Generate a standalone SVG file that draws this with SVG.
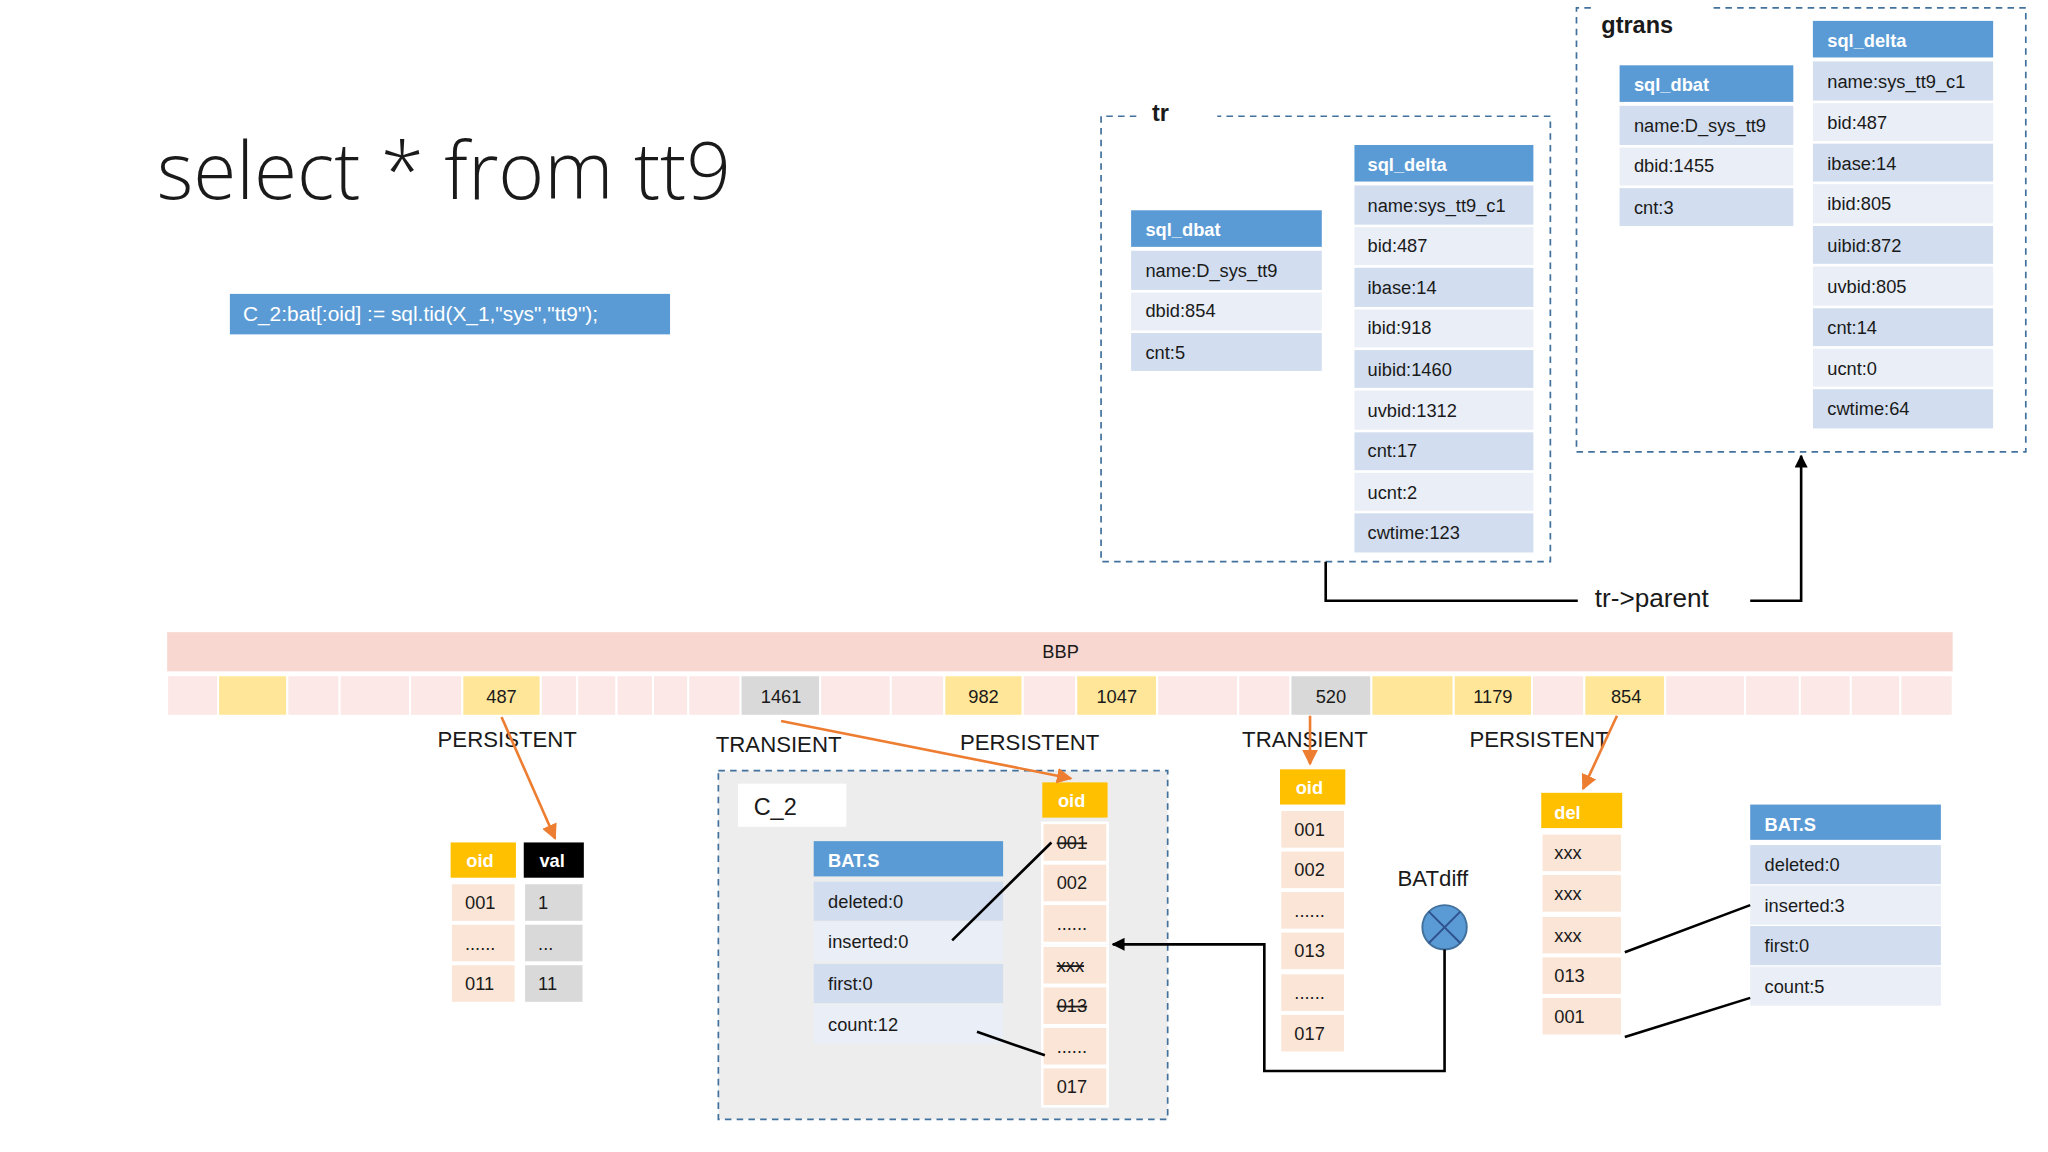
<svg xmlns="http://www.w3.org/2000/svg" width="2048" height="1152" viewBox="0 0 2048 1152">
<style>
text{font-family:"Liberation Sans","Noto Sans",sans-serif;fill:#1a1a1a}
.hd{fill:#5b9bd5}.hdt{fill:#fff;font-weight:bold;font-size:14px}
.r1{fill:#d2deef}.r2{fill:#e9eef7}
.t{font-size:14px}
.box{fill:none;stroke:#41719c;stroke-width:1.3;stroke-dasharray:5,4}
.pk{fill:#fce8e6}.ye{fill:#ffe699}.gr{fill:#d9d9d9}
.og{fill:#ffc000}.oc{fill:#fbe5d6;stroke:#fff;stroke-width:2}
.oa{stroke:#ed7d31;stroke-width:2;fill:none}
.bl{stroke:#000;stroke-width:2;fill:none}
.lab{font-size:17px}
</style>
<defs>
<marker id="ao" viewBox="0 0 10 10" refX="9" refY="5" markerWidth="6" markerHeight="6" orient="auto"><path d="M0,0L10,5L0,10z" fill="#ed7d31"/></marker>
<marker id="ab" viewBox="0 0 10 10" refX="9" refY="5" markerWidth="5" markerHeight="5" orient="auto"><path d="M0,0L10,5L0,10z" fill="#000"/></marker>
</defs>
<rect width="2048" height="1152" fill="#fff"/>
<g transform="scale(1.30612)">
<g id="title"><text x="120" y="152" style="font-size:60px;font-family:'Open Sans','Liberation Sans',sans-serif;font-weight:300">select * from tt9</text></g>
<g id="code"><rect x="176" y="225" width="337" height="31" fill="#5b9bd5"/><text x="186" y="246" style="fill:#fff;font-size:16px">C_2:bat[:oid] := sql.tid(X_1,"sys","tt9");</text></g>

<g id="tr">
<path class="box" d="M870,89H843V430H1187V89H932"/>
<text x="882" y="93" style="font-weight:bold;font-size:18px">tr</text>
<rect class="hd" x="866" y="161" width="146" height="28"/><text class="hdt" x="877" y="181">sql_dbat</text>
<rect class="r1" x="866" y="192" width="146" height="30"/><text class="t" x="877" y="212">name:D_sys_tt9</text>
<rect class="r2" x="866" y="224" width="146" height="29"/><text class="t" x="877" y="243">dbid:854</text>
<rect class="r1" x="866" y="255" width="146" height="29"/><text class="t" x="877" y="275">cnt:5</text>
<rect class="hd" x="1037" y="111" width="137" height="28"/><text class="hdt" x="1047" y="131">sql_delta</text>
<rect class="r1" x="1037" y="142" width="137" height="30"/><text class="t" x="1047" y="162">name:sys_tt9_c1</text>
<rect class="r2" x="1037" y="174" width="137" height="29"/><text class="t" x="1047" y="193">bid:487</text>
<rect class="r1" x="1037" y="205" width="137" height="30"/><text class="t" x="1047" y="225">ibase:14</text>
<rect class="r2" x="1037" y="237" width="137" height="29"/><text class="t" x="1047" y="256">ibid:918</text>
<rect class="r1" x="1037" y="268" width="137" height="29"/><text class="t" x="1047" y="288">uibid:1460</text>
<rect class="r2" x="1037" y="299" width="137" height="30"/><text class="t" x="1047" y="319">uvbid:1312</text>
<rect class="r1" x="1037" y="331" width="137" height="29"/><text class="t" x="1047" y="350">cnt:17</text>
<rect class="r2" x="1037" y="362" width="137" height="29"/><text class="t" x="1047" y="382">ucnt:2</text>
<rect class="r1" x="1037" y="393" width="137" height="30"/><text class="t" x="1047" y="413">cwtime:123</text>
</g>

<g id="gtrans">
<path class="box" d="M1218,6H1207V346H1551V6H1308"/>
<text x="1226" y="25" style="font-weight:bold;font-size:18px">gtrans</text>
<rect class="hd" x="1240" y="50" width="133" height="28"/><text class="hdt" x="1251" y="70">sql_dbat</text>
<rect class="r1" x="1240" y="81" width="133" height="30"/><text class="t" x="1251" y="101">name:D_sys_tt9</text>
<rect class="r2" x="1240" y="113" width="133" height="29"/><text class="t" x="1251" y="132">dbid:1455</text>
<rect class="r1" x="1240" y="144" width="133" height="29"/><text class="t" x="1251" y="164">cnt:3</text>
<rect class="hd" x="1388" y="16" width="138" height="28"/><text class="hdt" x="1399" y="36">sql_delta</text>
<rect class="r1" x="1388" y="47" width="138" height="30"/><text class="t" x="1399" y="67">name:sys_tt9_c1</text>
<rect class="r2" x="1388" y="79" width="138" height="29"/><text class="t" x="1399" y="99">bid:487</text>
<rect class="r1" x="1388" y="110" width="138" height="29"/><text class="t" x="1399" y="130">ibase:14</text>
<rect class="r2" x="1388" y="141" width="138" height="30"/><text class="t" x="1399" y="161">ibid:805</text>
<rect class="r1" x="1388" y="173" width="138" height="29"/><text class="t" x="1399" y="193">uibid:872</text>
<rect class="r2" x="1388" y="204" width="138" height="30"/><text class="t" x="1399" y="224">uvbid:805</text>
<rect class="r1" x="1388" y="236" width="138" height="29"/><text class="t" x="1399" y="256">cnt:14</text>
<rect class="r2" x="1388" y="267" width="138" height="29"/><text class="t" x="1399" y="287">ucnt:0</text>
<rect class="r1" x="1388" y="298" width="138" height="30"/><text class="t" x="1399" y="318">cwtime:64</text>
</g>

<g id="bbp">
<rect x="128" y="484" width="1367" height="30" fill="#f8d7d0"/>
<text x="812" y="504" text-anchor="middle" style="font-size:14px">BBP</text>
<g stroke="#fff" stroke-width="1.5">
<rect class="pk" x="128" y="517" width="39" height="31"/><rect class="ye" x="167" y="517" width="53" height="31"/>
<rect class="pk" x="220" y="517" width="40" height="31"/><rect class="pk" x="260" y="517" width="54" height="31"/>
<rect class="pk" x="314" y="517" width="40" height="31"/><rect class="ye" x="354" y="517" width="60" height="31"/>
<rect class="pk" x="414" y="517" width="28" height="31"/><rect class="pk" x="442" y="517" width="30" height="31"/>
<rect class="pk" x="472" y="517" width="28" height="31"/><rect class="pk" x="500" y="517" width="27" height="31"/>
<rect class="pk" x="527" y="517" width="40" height="31"/><rect class="gr" x="567" y="517" width="61" height="31"/>
<rect class="pk" x="628" y="517" width="54" height="31"/><rect class="pk" x="682" y="517" width="41" height="31"/>
<rect class="ye" x="723" y="517" width="60" height="31"/><rect class="pk" x="783" y="517" width="41" height="31"/>
<rect class="ye" x="824" y="517" width="62" height="31"/><rect class="pk" x="886" y="517" width="62" height="31"/>
<rect class="pk" x="948" y="517" width="40" height="31"/><rect class="gr" x="988" y="517" width="62" height="31"/>
<rect class="ye" x="1050" y="517" width="63" height="31"/><rect class="ye" x="1113" y="517" width="60" height="31"/>
<rect class="pk" x="1173" y="517" width="40" height="31"/><rect class="ye" x="1213" y="517" width="62" height="31"/>
<rect class="pk" x="1275" y="517" width="61" height="31"/><rect class="pk" x="1336" y="517" width="42" height="31"/>
<rect class="pk" x="1378" y="517" width="39" height="31"/><rect class="pk" x="1417" y="517" width="38" height="31"/>
<rect class="pk" x="1455" y="517" width="40" height="31"/>
</g>
<g class="t" text-anchor="middle" style="font-size:14px">
<text x="384" y="538">487</text><text x="598" y="538">1461</text><text x="753" y="538">982</text><text x="855" y="538">1047</text>
<text x="1019" y="538">520</text><text x="1143" y="538">1179</text><text x="1245" y="538">854</text>
</g>
</g>

<g id="labels" class="lab">
<text class="lab" x="335" y="572">PERSISTENT</text>
<text class="lab" x="548" y="576">TRANSIENT</text>
<text class="lab" x="735" y="574">PERSISTENT</text>
<text class="lab" x="951" y="572">TRANSIENT</text>
<text class="lab" x="1125" y="572">PERSISTENT</text>
</g>

<g id="t487">
<rect class="og" x="345" y="645" width="50" height="27"/><text x="357" y="664" style="fill:#fff;font-weight:bold;font-size:14px">oid</text>
<rect x="401" y="645" width="46" height="27" fill="#000"/><text x="413" y="664" style="fill:#fff;font-weight:bold;font-size:14px">val</text>
<g stroke="#fff" stroke-width="2"><rect class="oc" x="345" y="676" width="50" height="30"/><rect class="gr" x="401" y="676" width="46" height="30"/>
<rect class="oc" x="345" y="707" width="50" height="30"/><rect class="gr" x="401" y="707" width="46" height="30"/>
<rect class="oc" x="345" y="738" width="50" height="30"/><rect class="gr" x="401" y="738" width="46" height="30"/></g>
<text class="t" x="356" y="696">001</text><text class="t" x="412" y="696">1</text>
<text class="t" x="356" y="727">......</text><text class="t" x="412" y="727">...</text>
<text class="t" x="356" y="758">011</text><text class="t" x="412" y="758">11</text>
</g>

<g id="c2">
<rect x="550" y="590" width="344" height="267" fill="#ededed"/><rect class="box" x="550" y="590" width="344" height="267"/>
<rect x="565" y="600" width="83" height="33" fill="#fff"/><text x="577" y="624" style="font-size:18px">C_2</text>
<rect class="hd" x="623" y="644" width="145" height="27"/><text class="hdt" x="634" y="664">BAT.S</text>
<rect class="r1" x="623" y="675" width="145" height="30"/><text class="t" x="634" y="695">deleted:0</text>
<rect class="r2" x="623" y="706" width="145" height="30"/><text class="t" x="634" y="726">inserted:0</text>
<rect class="r1" x="623" y="738" width="145" height="30"/><text class="t" x="634" y="758">first:0</text>
<rect class="r2" x="623" y="769" width="145" height="30"/><text class="t" x="634" y="789">count:12</text>
<rect class="og" x="798" y="599" width="50" height="27"/><text x="810" y="618" style="fill:#fff;font-weight:bold;font-size:14px">oid</text>
<rect class="oc" x="798" y="630" width="50" height="30"/><text class="t" x="809" y="650" text-decoration="line-through">001</text>
<rect class="oc" x="798" y="661" width="50" height="30"/><text class="t" x="809" y="681">002</text>
<rect class="oc" x="798" y="692" width="50" height="30"/><text class="t" x="809" y="712">......</text>
<rect class="oc" x="798" y="724" width="50" height="30"/><text class="t" x="809" y="744" text-decoration="line-through">xxx</text>
<rect class="oc" x="798" y="755" width="50" height="30"/><text class="t" x="809" y="775" text-decoration="line-through">013</text>
<rect class="oc" x="798" y="786" width="50" height="30"/><text class="t" x="809" y="806">......</text>
<rect class="oc" x="798" y="817" width="50" height="30"/><text class="t" x="809" y="837">017</text>
</g>

<g id="t520">
<rect class="og" x="980" y="589" width="50" height="27"/><text x="992" y="608" style="fill:#fff;font-weight:bold;font-size:14px">oid</text>
<rect class="oc" x="980" y="620" width="50" height="30"/><text class="t" x="991" y="640">001</text>
<rect class="oc" x="980" y="651" width="50" height="30"/><text class="t" x="991" y="671">002</text>
<rect class="oc" x="980" y="682" width="50" height="30"/><text class="t" x="991" y="702">......</text>
<rect class="oc" x="980" y="713" width="50" height="30"/><text class="t" x="991" y="733">013</text>
<rect class="oc" x="980" y="745" width="50" height="30"/><text class="t" x="991" y="765">......</text>
<rect class="oc" x="980" y="776" width="50" height="30"/><text class="t" x="991" y="796">017</text>
</g>

<g id="batdiff">
<text x="1070" y="678" style="font-size:17px">BATdiff</text>
<circle cx="1106" cy="710" r="17" fill="#5b9bd5" stroke="#41719c" stroke-width="1.5"/>
<path d="M1094,698L1118,722M1118,698L1094,722" stroke="#2f528f" stroke-width="1.5"/>
</g>

<g id="t854">
<rect class="og" x="1180" y="607" width="62" height="27"/><text x="1190" y="627" style="fill:#fff;font-weight:bold;font-size:14px">del</text>
<rect class="oc" x="1180" y="638" width="62" height="30"/><text class="t" x="1190" y="658">xxx</text>
<rect class="oc" x="1180" y="669" width="62" height="30"/><text class="t" x="1190" y="689">xxx</text>
<rect class="oc" x="1180" y="701" width="62" height="30"/><text class="t" x="1190" y="721">xxx</text>
<rect class="oc" x="1180" y="732" width="62" height="30"/><text class="t" x="1190" y="752">013</text>
<rect class="oc" x="1180" y="763" width="62" height="30"/><text class="t" x="1190" y="783">001</text>
</g>

<g id="bats2">
<rect class="hd" x="1340" y="616" width="146" height="27"/><text class="hdt" x="1351" y="636">BAT.S</text>
<rect class="r1" x="1340" y="647" width="146" height="30"/><text class="t" x="1351" y="667">deleted:0</text>
<rect class="r2" x="1340" y="678" width="146" height="30"/><text class="t" x="1351" y="698">inserted:3</text>
<rect class="r1" x="1340" y="709" width="146" height="30"/><text class="t" x="1351" y="729">first:0</text>
<rect class="r2" x="1340" y="740" width="146" height="30"/><text class="t" x="1351" y="760">count:5</text>
</g>

<g id="connectors">
<path class="bl" d="M1015,430V460H1208"/>
<text x="1221" y="465" style="font-size:20px">tr-&gt;parent</text>
<path class="bl" d="M1340,460H1379V349" marker-end="url(#ab)"/>
<path class="oa" d="M384,549L425,642" marker-end="url(#ao)"/>
<path class="oa" d="M598,552L820,596" marker-end="url(#ao)"/>
<path class="oa" d="M1003,548V585" marker-end="url(#ao)"/>
<path class="oa" d="M1238,548L1212,604" marker-end="url(#ao)"/>
<path class="bl" d="M729,720L805,645M748,790L800,808"/>
<path class="bl" d="M1106,727V820H968V723H852" marker-end="url(#ab)"/>
<path class="bl" d="M1244,729L1340,693M1244,794L1340,764"/>
</g>
</g>
</svg>
